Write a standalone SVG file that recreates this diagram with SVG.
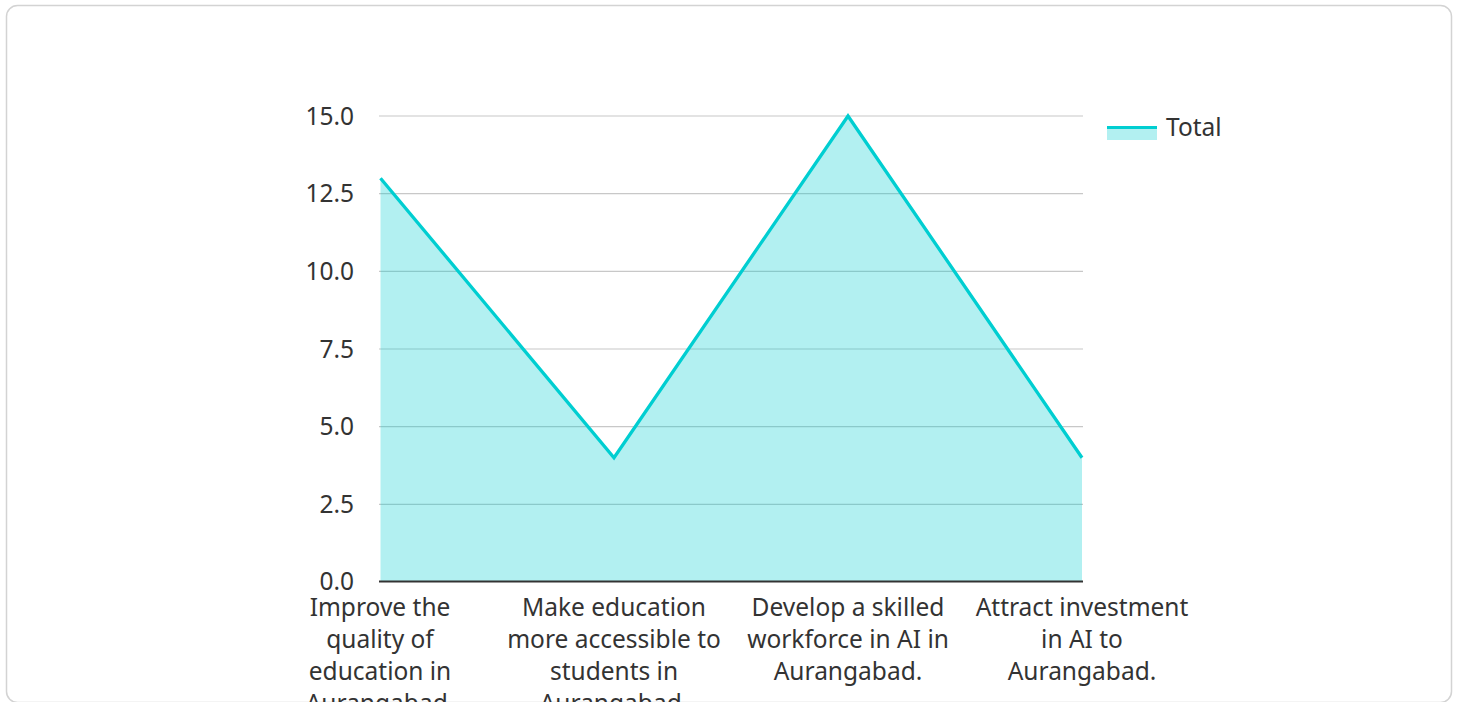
<svg xmlns="http://www.w3.org/2000/svg" width="1458" height="702" viewBox="0 0 1458 702">
<style>
text{font-family:"Noto Sans","Open Sans","Liberation Sans",sans-serif;font-size:24.5px;fill:#333}
.grid{stroke:#c8c8c8;stroke-width:1.2}
.ylab{text-anchor:end}
.xlab{text-anchor:middle}
</style>
<rect x="0" y="0" width="1458" height="702" fill="#fff"/>
<rect x="6.5" y="5.5" width="1445" height="697" rx="11" fill="#fff" stroke="#d3d3d3" stroke-width="1.5"/>
<g id="gridlines">
<line class="grid" x1="379" y1="116" x2="1083" y2="116"/>
<line class="grid" x1="379" y1="193.7" x2="1083" y2="193.7"/>
<line class="grid" x1="379" y1="271.3" x2="1083" y2="271.3"/>
<line class="grid" x1="379" y1="349" x2="1083" y2="349"/>
<line class="grid" x1="379" y1="426.7" x2="1083" y2="426.7"/>
<line class="grid" x1="379" y1="504.3" x2="1083" y2="504.3"/>
</g>
<g id="series-total">
<polygon points="380.5,178.2 614,457.7 848,116 1082,457.7 1082,582 380.5,582" fill="#00ced1" fill-opacity="0.3"/>
<polyline points="380.5,178.2 614,457.7 848,116 1082,457.7" fill="none" stroke="#00ced1" stroke-width="3.3" stroke-linejoin="miter"/>
</g>
<g id="axis">
<line x1="379" y1="581.5" x2="1083" y2="581.5" stroke="#333" stroke-width="2"/>
</g>
<g id="y-labels">
<text class="ylab" x="354" y="124.5">15.0</text>
<text class="ylab" x="354" y="202.2">12.5</text>
<text class="ylab" x="354" y="279.8">10.0</text>
<text class="ylab" x="354" y="357.5">7.5</text>
<text class="ylab" x="354" y="435.2">5.0</text>
<text class="ylab" x="354" y="512.8">2.5</text>
<text class="ylab" x="354" y="590">0.0</text>
</g>
<g id="x-labels">
<text class="xlab" x="380" y="616"><tspan x="380">Improve the</tspan><tspan x="380" dy="32">quality of</tspan><tspan x="380" dy="32">education in</tspan><tspan x="380" dy="32">Aurangabad.</tspan></text>
<text class="xlab" x="614" y="616"><tspan x="614">Make education</tspan><tspan x="614" dy="32">more accessible to</tspan><tspan x="614" dy="32">students in</tspan><tspan x="614" dy="32">Aurangabad.</tspan></text>
<text class="xlab" x="848" y="616"><tspan x="848">Develop a skilled</tspan><tspan x="848" dy="32">workforce in AI in</tspan><tspan x="848" dy="32">Aurangabad.</tspan></text>
<text class="xlab" x="1082" y="616"><tspan x="1082">Attract investment</tspan><tspan x="1082" dy="32">in AI to</tspan><tspan x="1082" dy="32">Aurangabad.</tspan></text>
</g>
<g id="legend">
<rect x="1107" y="126" width="50" height="14" fill="#00ced1" fill-opacity="0.3"/>
<line x1="1107" y1="127.5" x2="1157" y2="127.5" stroke="#00ced1" stroke-width="3"/>
<text x="1166" y="136">Total</text>
</g>
</svg>
